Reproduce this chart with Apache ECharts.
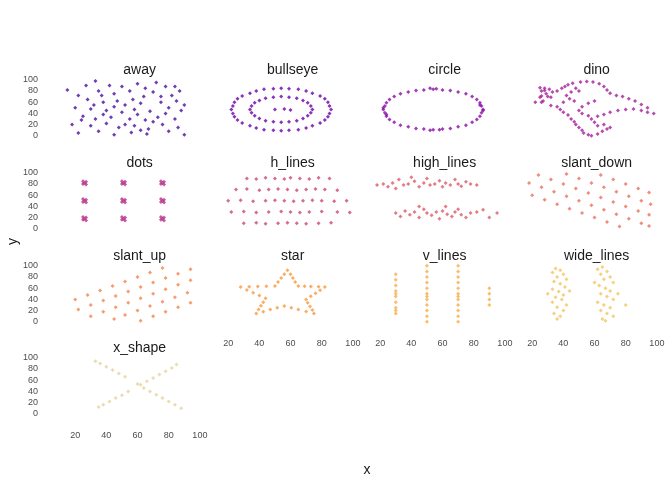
<html><head><meta charset="utf-8"><script src="https://cdn.jsdelivr.net/npm/echarts@6/dist/echarts.min.js"></script></head>
<body style="margin:0"><div id="c" style="width:672px;height:480px"></div>
<script>
const names=["away","bullseye","circle","dino","dots","h_lines","high_lines","slant_down","slant_up","star","v_lines","wide_lines","x_shape"];
const colors=["#4a0ca0","#6a00a8","#8b0aa5","#a41e9a","#b8318a","#cb4679","#db5c68","#e8705a","#f2844b","#f89a3f","#f9ac48","#f2c462","#e6d39c"];
const xTicks=[20,40,60,80,100], yTicks=[0,20,40,60,80,100];
const away=[[33,98],[42,90],[50,88],[60,93],[72,95],[78,88],[87,80],[15,82],[22,72],[35,80],[45,75],[55,80],[64,70],[70,78],[82,72],[28,65],[38,60],[47,62],[52,55],[62,58],[75,60],[85,62],[90,55],[20,50],[30,48],[40,45],[50,42],[58,47],[68,44],[78,40],[88,45],[25,35],[33,30],[43,33],[55,30],[65,28],[73,33],[84,30],[18,20],[30,18],[40,22],[48,15],[58,18],[67,12],[76,20],[86,15],[22,5],[35,8],[45,2],[56,6],[66,3],[80,8],[90,2],[37,72],[57,65],[80,50],[32,55],[70,25],[60,38],[45,52],[27,90],[65,85],[52,20],[38,38],[75,70],[84,88],[24,28],[62,10]];
const bullseye=[[86,47],[84,60],[79,71],[70,80],[59,84],[49,84],[38,80],[29,71],[24,60],[22,47],[24,34],[29,23],[38,14],[49,10],[59,10],[70,14],[79,23],[84,34],[85,53],[82,66],[74,76],[65,83],[54,85],[43,83],[34,76],[26,66],[23,53],[23,40],[26,28],[34,18],[43,11],[54,9],[65,11],[74,18],[82,28],[85,40],[74,47],[71,59],[64,67],[54,70],[44,67],[37,59],[34,47],[37,36],[44,27],[54,24],[64,27],[71,36],[73,53],[68,63],[59,69],[49,69],[40,63],[35,53],[35,41],[40,31],[49,25],[59,25],[68,31],[73,41],[50,47],[56,48],[60,46]];
const circle=[[86,47],[85,53],[84,59],[82,65],[79,70],[75,75],[70,78],[65,81],[60,82],[54,83],[48,82],[43,81],[38,78],[33,75],[29,70],[26,65],[24,59],[23,53],[22,47],[23,41],[24,35],[26,29],[29,24],[33,19],[38,16],[43,13],[48,12],[54,11],[60,12],[65,13],[70,16],[75,19],[79,24],[82,29],[84,35],[85,41],[86,45],[84,55],[56,84],[52,85],[22,50],[24,38],[52,10],[58,11]];
const dino=[[55,97],[51,96],[46,94],[43,91],[41,88],[39,85],[36,80],[33,78],[29,75],[26,71],[25,69],[25,86],[26,80],[28,85],[28,81],[31,83],[30,70],[27,62],[22,60],[26,60],[32,69],[32,54],[36,52],[38,47],[40,42],[43,37],[45,30],[47,25],[48,20],[50,15],[52,10],[53,5],[56,2],[58,0],[62,3],[65,8],[68,12],[70,15],[66,20],[62,18],[60,24],[58,30],[62,35],[66,38],[70,42],[75,45],[80,47],[85,48],[90,45],[94,42],[98,40],[59,96],[63,93],[66,88],[68,82],[70,76],[74,72],[78,70],[82,66],[86,62],[90,56],[94,50],[60,62],[56,58],[52,52],[50,45],[52,40],[56,36],[47,62],[44,66],[42,72],[45,78],[50,80],[48,85],[40,60]];
const dots=[[26,82],[27,84],[25,80],[27,79],[25,85],[26,50],[27,52],[25,48],[27,47],[25,53],[26,18],[27,20],[25,16],[27,15],[25,21],[51,82],[52,84],[50,80],[52,79],[50,85],[51,50],[52,52],[50,48],[52,47],[50,53],[51,18],[52,20],[50,16],[52,15],[50,21],[76,82],[77,84],[75,80],[77,79],[75,85],[76,50],[77,52],[75,48],[77,47],[75,53],[76,18],[77,20],[75,16],[77,15],[75,21]];
const h_lines=[[32,90],[38,89],[44,91],[50,90],[56,89],[60,91],[66,90],[72,89],[78,91],[85,90],[25,70],[32,71],[40,69],[46,70],[52,71],[58,70],[64,69],[70,70],[76,71],[82,70],[90,69],[20,50],[28,51],[36,49],[44,50],[50,51],[56,50],[62,49],[68,50],[74,51],[80,50],[88,49],[96,50],[22,30],[30,31],[38,29],[46,30],[54,31],[60,30],[66,29],[72,30],[80,31],[90,30],[98,29],[30,10],[38,11],[44,9],[52,10],[58,11],[64,10],[70,9],[78,10],[86,11]];
const high_lines=[[18,78],[22,80],[25,75],[28,82],[32,88],[35,78],[38,80],[42,85],[45,75],[48,82],[50,90],[52,78],[55,80],[58,86],[60,75],[62,82],[65,78],[68,88],[70,80],[72,76],[75,84],[78,80],[82,78],[30,72],[40,92],[30,28],[33,22],[36,32],[39,25],[42,30],[45,20],[48,35],[50,28],[53,24],[56,30],[58,18],[60,32],[63,26],[66,22],[68,30],[70,35],[72,25],[75,20],[78,28],[82,30],[86,34],[90,20],[45,40],[62,40],[95,28]];
const slant_down=[[20,60],[28,52],[36,44],[44,36],[52,28],[60,20],[68,12],[76,4],[18,82],[26,74],[34,66],[42,58],[50,50],[58,42],[66,34],[74,26],[82,18],[90,10],[95,5],[24,96],[32,88],[40,80],[48,72],[56,64],[64,56],[72,48],[80,40],[88,32],[95,25],[42,98],[50,90],[58,82],[66,74],[74,66],[82,58],[90,50],[96,44],[64,96],[72,88],[80,80],[88,72],[95,65]];
const slant_up=[[62,2],[70,10],[78,18],[86,26],[94,34],[45,5],[52,12],[60,20],[68,28],[76,36],[84,44],[92,52],[30,10],[38,18],[46,26],[54,34],[62,42],[70,50],[78,58],[86,66],[94,74],[20,40],[28,48],[36,56],[44,64],[52,72],[60,80],[68,88],[76,96],[22,22],[30,30],[38,38],[46,46],[54,54],[62,62],[70,70],[78,78],[86,86],[94,94]];
const star=[[58,92],[65,64],[82,62],[70,40],[75,15],[56,28],[38,15],[44,42],[28,62],[50,64],[60,85],[61.5,78],[63,71],[69,63.5],[73,63],[78,62.5],[79,56.5],[76,51],[73,45.5],[71,34],[72.5,27.5],[74,21],[70,18.5],[65,22],[60.5,25],[51.5,25],[47,22],[42.5,18],[39.5,22],[41,28.5],[42.5,35],[40,47],[36,52],[32,57],[33.5,62.5],[39,63],[44.5,63.5],[52,71],[54,78],[56,85]];
const v_lines=[[30,15],[30,25],[30,35],[30,45],[30,55],[30,65],[30,75],[30,85],[50,0],[50,10],[50,20],[50,30],[50,40],[50,50],[50,60],[50,70],[50,80],[50,90],[50,100],[70,0],[70,10],[70,20],[70,30],[70,40],[70,50],[70,60],[70,70],[70,80],[70,90],[70,100],[90,30],[90,40],[90,50],[90,60],[30,20],[30,50],[50,45],[70,45]];
const wide_lines=[[35,95],[38,92],[33,88],[40,85],[36,80],[42,76],[34,72],[38,68],[41,62],[33,58],[37,54],[40,48],[35,44],[39,40],[33,35],[42,30],[36,26],[40,20],[34,15],[38,10],[36,5],[30,50],[44,55],[65,98],[62,94],[68,90],[64,85],[70,80],[66,76],[72,70],[63,65],[67,60],[70,55],[64,50],[68,45],[72,40],[62,35],[66,30],[70,25],[64,20],[68,15],[72,10],[65,5],[67,2],[75,50],[60,70],[80,30]];
const x_shape=[[33,94],[36,90],[40,84],[44,78],[48,72],[52,66],[60,53],[64,46],[68,40],[72,34],[76,28],[80,22],[84,16],[88,10],[35,12],[38,16],[42,22],[46,28],[50,33],[54,40],[62,52],[66,58],[70,64],[74,70],[78,76],[82,82],[85,88]];
const data=[away,bullseye,circle,dino,dots,h_lines,high_lines,slant_down,slant_up,star,v_lines,wide_lines,x_shape];
const lefts=[44,197,349,501], tops=[77,170,263,355];
const grid=[],xAxis=[],yAxis=[],series=[],title=[];
names.forEach((n,i)=>{
  const c=i%4,r=Math.floor(i/4);
  grid.push({left:lefts[c],top:tops[r],width:159,height:70});
  const showX=(c===0&&r===3)||(c>0&&r===2);
  xAxis.push({gridIndex:i,type:'value',min:0,max:102,interval:20,axisLine:{show:false},axisTick:{show:false},splitLine:{show:false},
    axisLabel:{show:showX,fontSize:9,color:'#4d4d4d',margin:6,formatter:v=>xTicks.includes(v)?v:''}});
  yAxis.push({gridIndex:i,type:'value',min:-20,max:105,interval:20,axisLine:{show:false},axisTick:{show:false},splitLine:{show:false},
    axisLabel:{show:c===0,fontSize:9,color:'#4d4d4d',margin:6,formatter:v=>yTicks.includes(v)?v:''}});
  series.push({type:'scatter',xAxisIndex:i,yAxisIndex:i,data:data[i],symbol:'diamond',symbolSize:4,itemStyle:{color:colors[i]},silent:true});
  title.push({text:n,left:lefts[c]+58*1.5625,top:tops[r]-19,textAlign:'center',textStyle:{fontSize:14,fontWeight:'normal',color:'#1a1a1a',fontFamily:'Liberation Sans'}});
});
title.push({text:'x',left:362,top:458,textAlign:'center',textStyle:{fontSize:14,fontWeight:'normal',color:'#1a1a1a'}});
const ch=echarts.init(document.getElementById('c'));
ch.setOption({animation:false,backgroundColor:'#fff',title,grid,xAxis,yAxis,series,
  graphic:[{type:'text',left:6,top:238,rotation:Math.PI/2,style:{text:'y',fontSize:14,fill:'#1a1a1a'}}]});
</script></body></html>
